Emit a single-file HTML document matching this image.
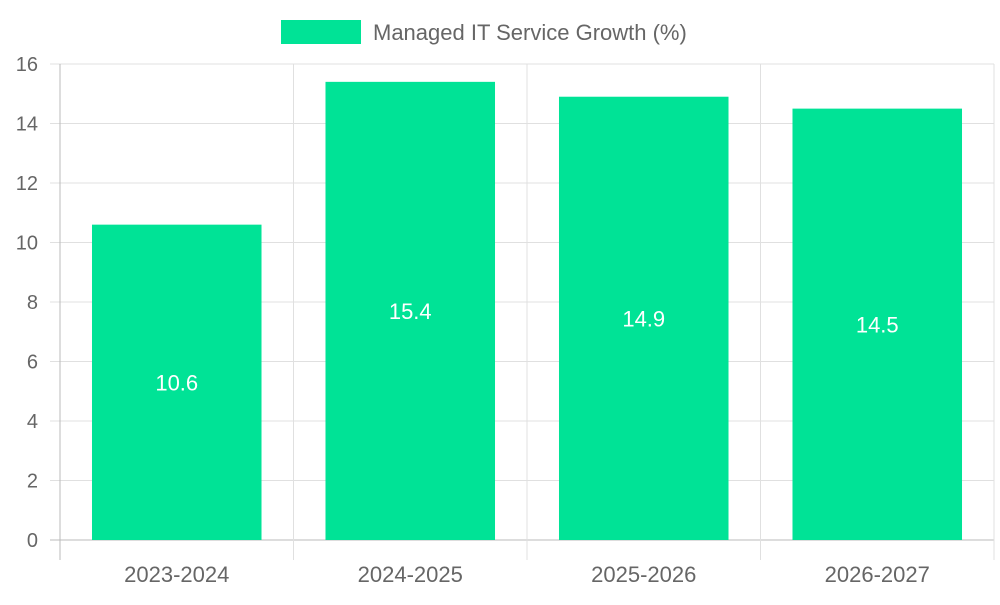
<!DOCTYPE html>
<html><head><meta charset="utf-8"><style>
body{margin:0;background:#fff;}
svg{font-family:"Liberation Sans",sans-serif;}
</style></head><body>
<svg id="chart" width="1000" height="600">
<g>
<rect x="281" y="20" width="80" height="24" fill="#00e396"/>
<text x="373" y="40" font-size="22" fill="#666">Managed IT Service Growth (%)</text>
</g>
<g id="grid"></g><g id="bars"></g><g id="labels"></g>
</svg>
<script>
const categories=["2023-2024","2024-2025","2025-2026","2026-2027"];
const values=[10.6,15.4,14.9,14.5];
const yTicks=[0,2,4,6,8,10,12,14,16];
const NS="http://www.w3.org/2000/svg";
const L=60,R=994,T=64,B=540,yMax=16;
const y=v=>B-(v/yMax)*(B-T);
const cw=(R-L)/categories.length;
const x=i=>L+i*cw;
function mk(tag,attrs,parent,text){const e=document.createElementNS(NS,tag);for(const k in attrs)e.setAttribute(k,attrs[k]);if(text!==undefined)e.textContent=text;document.getElementById(parent).appendChild(e);return e;}
yTicks.forEach(t=>{
 const g=mk("line",{x1:50,x2:R,y1:y(t),y2:y(t),stroke:t===0?"#bbb":"#e0e0e0","stroke-width":1},"grid");
 
 
 const tx=mk("text",{x:38,y:y(t)+7,"text-anchor":"end","font-size":20,fill:"#666"},"grid",t);
 
 
});
for(let i=0;i<=categories.length;i++){
 const l=mk("line",{x1:x(i),x2:x(i),y1:T,y2:560,stroke:i===0?"#bbb":"#e0e0e0","stroke-width":1},"grid");
 
 
}
categories.forEach((c,i)=>{
 const bx=x(i)+cw*0.137,bw=cw*0.726;
 const r=mk("rect",{x:bx,y:y(values[i]),width:bw,height:B-y(values[i]),fill:"#00e396"},"bars");
 
 
 const v=mk("text",{x:x(i)+cw/2,y:(y(values[i])+B)/2+8,"text-anchor":"middle","font-size":22,fill:"#fff"},"labels",values[i]);
 
 
 const t=mk("text",{x:x(i)+cw/2,y:582,"text-anchor":"middle","font-size":22,fill:"#666"},"labels",c);
 
 
});
</script>
</body></html>
